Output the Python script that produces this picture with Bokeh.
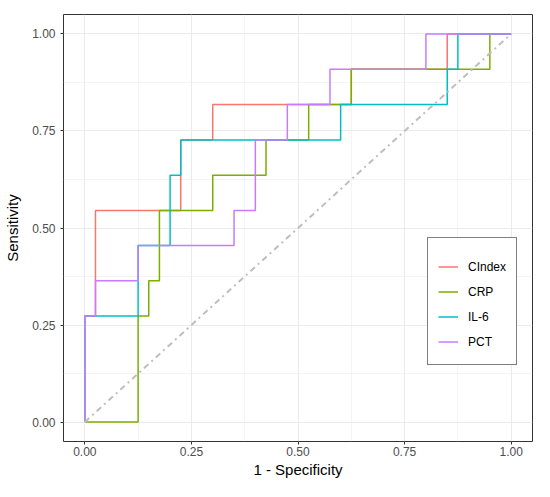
from bokeh.plotting import figure
from bokeh.models import Range1d, FixedTicker, Legend, LegendItem, NumeralTickFormatter
from bokeh.embed import file_html
from bokeh.resources import INLINE

# ROC step-curve vertices (1 - Specificity, Sensitivity)
cindex_fpr = [0, 0, 0.025, 0.025, 0.225, 0.225, 0.3, 0.3, 0.625, 0.625, 0.85, 0.85, 1]
cindex_tpr = [0, 0.273, 0.273, 0.545, 0.545, 0.727, 0.727, 0.818, 0.818, 0.909, 0.909, 1, 1]

crp_fpr = [0, 0.125, 0.125, 0.15, 0.15, 0.175, 0.175, 0.3, 0.3, 0.425, 0.425, 0.525, 0.525, 0.625, 0.625, 0.95, 0.95, 1]
crp_tpr = [0, 0, 0.273, 0.273, 0.364, 0.364, 0.545, 0.545, 0.636, 0.636, 0.727, 0.727, 0.818, 0.818, 0.909, 0.909, 1, 1]

il6_fpr = [0, 0, 0.125, 0.125, 0.2, 0.2, 0.225, 0.225, 0.6, 0.6, 0.85, 0.85, 0.875, 0.875, 1]
il6_tpr = [0, 0.273, 0.273, 0.455, 0.455, 0.636, 0.636, 0.727, 0.727, 0.818, 0.818, 0.909, 0.909, 1, 1]

pct_fpr = [0, 0, 0.025, 0.025, 0.125, 0.125, 0.35, 0.35, 0.4, 0.4, 0.475, 0.475, 0.575, 0.575, 0.8, 0.8, 1]
pct_tpr = [0, 0.273, 0.273, 0.364, 0.364, 0.455, 0.455, 0.545, 0.545, 0.727, 0.727, 0.818, 0.818, 0.909, 0.909, 1, 1]

series_names = ["CIndex", "CRP", "IL-6", "PCT"]
series_colors = ["#F8766D", "#7CAE00", "#00BFC4", "#C77CFF"]
diag_x = [0, 1]
diag_y = [0, 1]
major_ticks = [0, 0.25, 0.5, 0.75, 1.0]
minor_ticks = [0.125, 0.375, 0.625, 0.875]

FONT = "Liberation Sans"

p = figure(width=534, height=481, output_backend="svg", toolbar_location=None,
           x_range=Range1d(-0.05, 1.05), y_range=Range1d(-0.05, 1.05),
           min_border_left=63, min_border_right=2, min_border_top=14, min_border_bottom=40)

p.background_fill_color = "white"
p.border_fill_color = "white"
p.outline_line_color = "#333333"
p.outline_line_width = 1

for ax in (p.xaxis[0], p.yaxis[0]):
    ax.ticker = FixedTicker(ticks=major_ticks, minor_ticks=minor_ticks)
    ax.formatter = NumeralTickFormatter(format="0.00")
    ax.axis_line_color = None
    ax.major_tick_line_color = "#333333"
    ax.major_tick_out = 3
    ax.major_tick_in = 0
    ax.minor_tick_out = 0
    ax.minor_tick_in = 0
    ax.major_label_text_font = FONT
    ax.major_label_text_font_size = "12px"
    ax.major_label_text_color = "#4D4D4D"
    ax.axis_label_text_font = FONT
    ax.axis_label_text_font_size = "15px"
    ax.axis_label_text_font_style = "normal"
    ax.axis_label_text_color = "black"

p.xaxis.axis_label = "1 - Specificity"
p.yaxis.axis_label = "Sensitivity"
p.xaxis.major_label_standoff = 2
p.xaxis.axis_label_standoff = 2
p.yaxis.major_label_standoff = 5
p.yaxis.axis_label_standoff = 8

for g in (p.xgrid[0], p.ygrid[0]):
    g.ticker = FixedTicker(ticks=major_ticks, minor_ticks=minor_ticks)
    g.grid_line_color = "#EBEBEB"
    g.grid_line_width = 1.1
    g.minor_grid_line_color = "#EBEBEB"
    g.minor_grid_line_width = 0.55

data = [(cindex_fpr, cindex_tpr), (crp_fpr, crp_tpr), (il6_fpr, il6_tpr), (pct_fpr, pct_tpr)]
items = []
for (xs, ys), name, col in zip(data, series_names, series_colors):
    r = p.line(xs, ys, line_color=col, line_width=1.5)
    items.append(LegendItem(label=name, renderers=[r]))

p.line(diag_x, diag_y, line_color="#BEBEBE", line_width=2, line_dash="6 4 2 4")

legend = Legend(items=items, location=(364, 76), orientation="vertical")
legend.title = " "
legend.title_text_font_size = "5px"
legend.title_standoff = 0
legend.padding = 10
legend.spacing = 0
legend.margin = 0
legend.glyph_width = 20
legend.glyph_height = 25
legend.label_height = 25
legend.label_standoff = 10
legend.label_text_font = FONT
legend.label_text_font_size = "12px"
legend.label_text_color = "black"
legend.border_line_color = "black"
legend.border_line_width = 1.7
legend.background_fill_color = "white"
legend.background_fill_alpha = 1
p.add_layout(legend, "center")

open("out.html", "w").write(file_html(p, INLINE))
